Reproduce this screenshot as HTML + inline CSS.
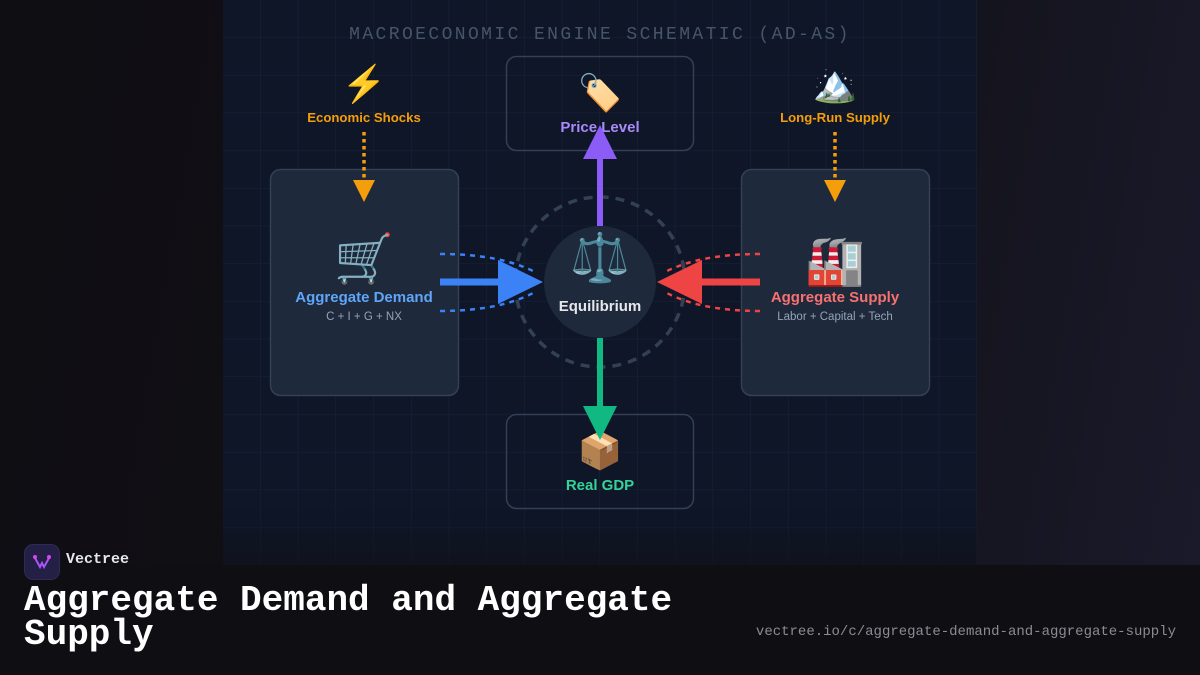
<!DOCTYPE html>
<html><head><meta charset="utf-8"><style>
html,body{margin:0;padding:0;width:1200px;height:675px;overflow:hidden;background:#111016}
.bg{position:absolute;inset:0;background:linear-gradient(100deg,#0f0e13 0%,#111016 60%,#1a1a2b 100%)}
svg{position:absolute;left:0;top:0}
.foot{position:absolute;left:0;top:565px;width:1200px;height:110px;background:#0f0e13}
.logo{position:absolute;left:24px;top:544px;width:34px;height:34px;border-radius:9px;background:#231f45;border:1px solid #2e2a55}
.brand{position:absolute;left:66px;top:551px;font:bold 15px "Liberation Mono",monospace;color:#e5e7eb}
.title{position:absolute;left:24px;top:584px;font:bold 36px/34px "Liberation Mono",monospace;color:#fff}
.url{position:absolute;right:24px;top:624px;font:14px "Liberation Mono",monospace;color:#8b8b95}
</style></head><body>
<div class="bg"></div>
<svg width="1200" height="675" viewBox="0 0 1200 675" font-family="Liberation Sans, sans-serif">
<defs>
<pattern id="g" x="223" y="0" width="37.7" height="37.7" patternUnits="userSpaceOnUse">
<path d="M37.7 0V37.7H0" fill="none" stroke="#1a2438" stroke-width="1"/></pattern>
<linearGradient id="fade" x1="0" y1="0" x2="0" y2="1"><stop offset="0.85" stop-color="#0e1628" stop-opacity="0"/><stop offset="1" stop-color="#111016" stop-opacity="0.6"/></linearGradient>
</defs>
<rect x="223" y="0" width="754" height="565" fill="#0e1628"/>
<rect x="223" y="0" width="754" height="565" fill="url(#g)"/>
<rect x="223" y="0" width="754" height="565" fill="url(#fade)"/>
<text x="600" y="39" text-anchor="middle" font-family="Liberation Mono, monospace" font-size="18" letter-spacing="2.4" fill="#475569">MACROECONOMIC ENGINE SCHEMATIC (AD-AS)</text>
<rect x="270.5" y="169.5" width="188" height="226" rx="10" fill="#1e293b" stroke="#334155" stroke-width="1.5"/>
<rect x="741.5" y="169.5" width="188" height="226" rx="10" fill="#1e293b" stroke="#334155" stroke-width="1.5"/>
<rect x="506.5" y="56.5" width="187" height="94" rx="10" fill="none" stroke="#334155" stroke-width="1.5"/>
<rect x="506.5" y="414.5" width="187" height="94" rx="10" fill="none" stroke="#334155" stroke-width="1.5"/>
<circle cx="600" cy="282" r="85" fill="none" stroke="#334155" stroke-width="3.5" stroke-dasharray="9 7"/>
<circle cx="600" cy="282" r="56" fill="#1e293b"/>
<text x="364" y="96" text-anchor="middle" font-size="36">⚡</text>
<text x="364" y="122" text-anchor="middle" font-size="13.2" font-weight="bold" fill="#f59e0b">Economic Shocks</text>
<text x="835" y="96" text-anchor="middle" font-size="36">🏔️</text>
<text x="835" y="122" text-anchor="middle" font-size="13.2" font-weight="bold" fill="#f59e0b">Long-Run Supply</text>
<line x1="364" y1="132" x2="364" y2="182" stroke="#f59e0b" stroke-width="3.5" stroke-dasharray="3.5 3.5"/>
<polygon points="353,180 375,180 364,202" fill="#f59e0b"/>
<line x1="835" y1="132" x2="835" y2="182" stroke="#f59e0b" stroke-width="3.5" stroke-dasharray="3.5 3.5"/>
<polygon points="824,180 846,180 835,202" fill="#f59e0b"/>
<text x="600" y="105" text-anchor="middle" font-size="36">🏷️</text>
<text x="600" y="132" text-anchor="middle" font-size="15" font-weight="bold" fill="#a78bfa">Price Level</text>
<text x="600" y="463" text-anchor="middle" font-size="36">📦</text>
<text x="600" y="490" text-anchor="middle" font-size="15" font-weight="bold" fill="#34d399">Real GDP</text>
<text x="364" y="275" text-anchor="middle" font-size="48">🛒</text>
<text x="364" y="302" text-anchor="middle" font-size="15" font-weight="bold" fill="#60a5fa">Aggregate Demand</text>
<text x="364" y="320" text-anchor="middle" font-size="11.5" fill="#94a3b8">C + I + G + NX</text>
<text x="835" y="277" text-anchor="middle" font-size="48">🏭</text>
<text x="835" y="302" text-anchor="middle" font-size="15" font-weight="bold" fill="#f87171">Aggregate Supply</text>
<text x="835" y="320" text-anchor="middle" font-size="11.5" fill="#94a3b8">Labor + Capital + Tech</text>
<text x="600" y="274" text-anchor="middle" font-size="48">⚖️</text>
<text x="600" y="311" text-anchor="middle" font-size="15" font-weight="bold" fill="#e5e7eb">Equilibrium</text>
<line x1="600" y1="226" x2="600" y2="155" stroke="#8b5cf6" stroke-width="6"/>
<polygon points="583,159 617,159 600,125" fill="#8b5cf6"/>
<line x1="600" y1="338" x2="600" y2="410" stroke="#10b981" stroke-width="6"/>
<polygon points="583,406 617,406 600,440" fill="#10b981"/>
<path d="M440 254 Q500 254 535 272 M440 311 Q500 311 535 292" fill="none" stroke="#3b82f6" stroke-width="2.5" stroke-dasharray="5 5"/>
<line x1="440" y1="282" x2="502" y2="282" stroke="#3b82f6" stroke-width="7"/>
<polygon points="498,260 498,304 543,282" fill="#3b82f6"/>
<path d="M760 254 Q700 254 665 272 M760 311 Q700 311 665 292" fill="none" stroke="#ef4444" stroke-width="2.5" stroke-dasharray="5 5"/>
<line x1="760" y1="282" x2="698" y2="282" stroke="#ef4444" stroke-width="7"/>
<polygon points="702,260 702,304 657,282" fill="#ef4444"/>
</svg>
<div class="foot"></div>
<div class="logo"><svg width="34" height="34" viewBox="0 0 34 34" style="position:absolute;left:0;top:0"><path d="M10 13 L15 22 L17 18 L19 22 L24 13" fill="none" stroke="#a855f7" stroke-width="2"/><circle cx="10" cy="12" r="2" fill="#d946ef"/><circle cx="24" cy="12" r="2" fill="#d946ef"/></svg></div>
<div class="brand">Vectree</div>
<div class="title">Aggregate Demand and Aggregate<br>Supply</div>
<div class="url">vectree.io/c/aggregate-demand-and-aggregate-supply</div>
</body></html>
